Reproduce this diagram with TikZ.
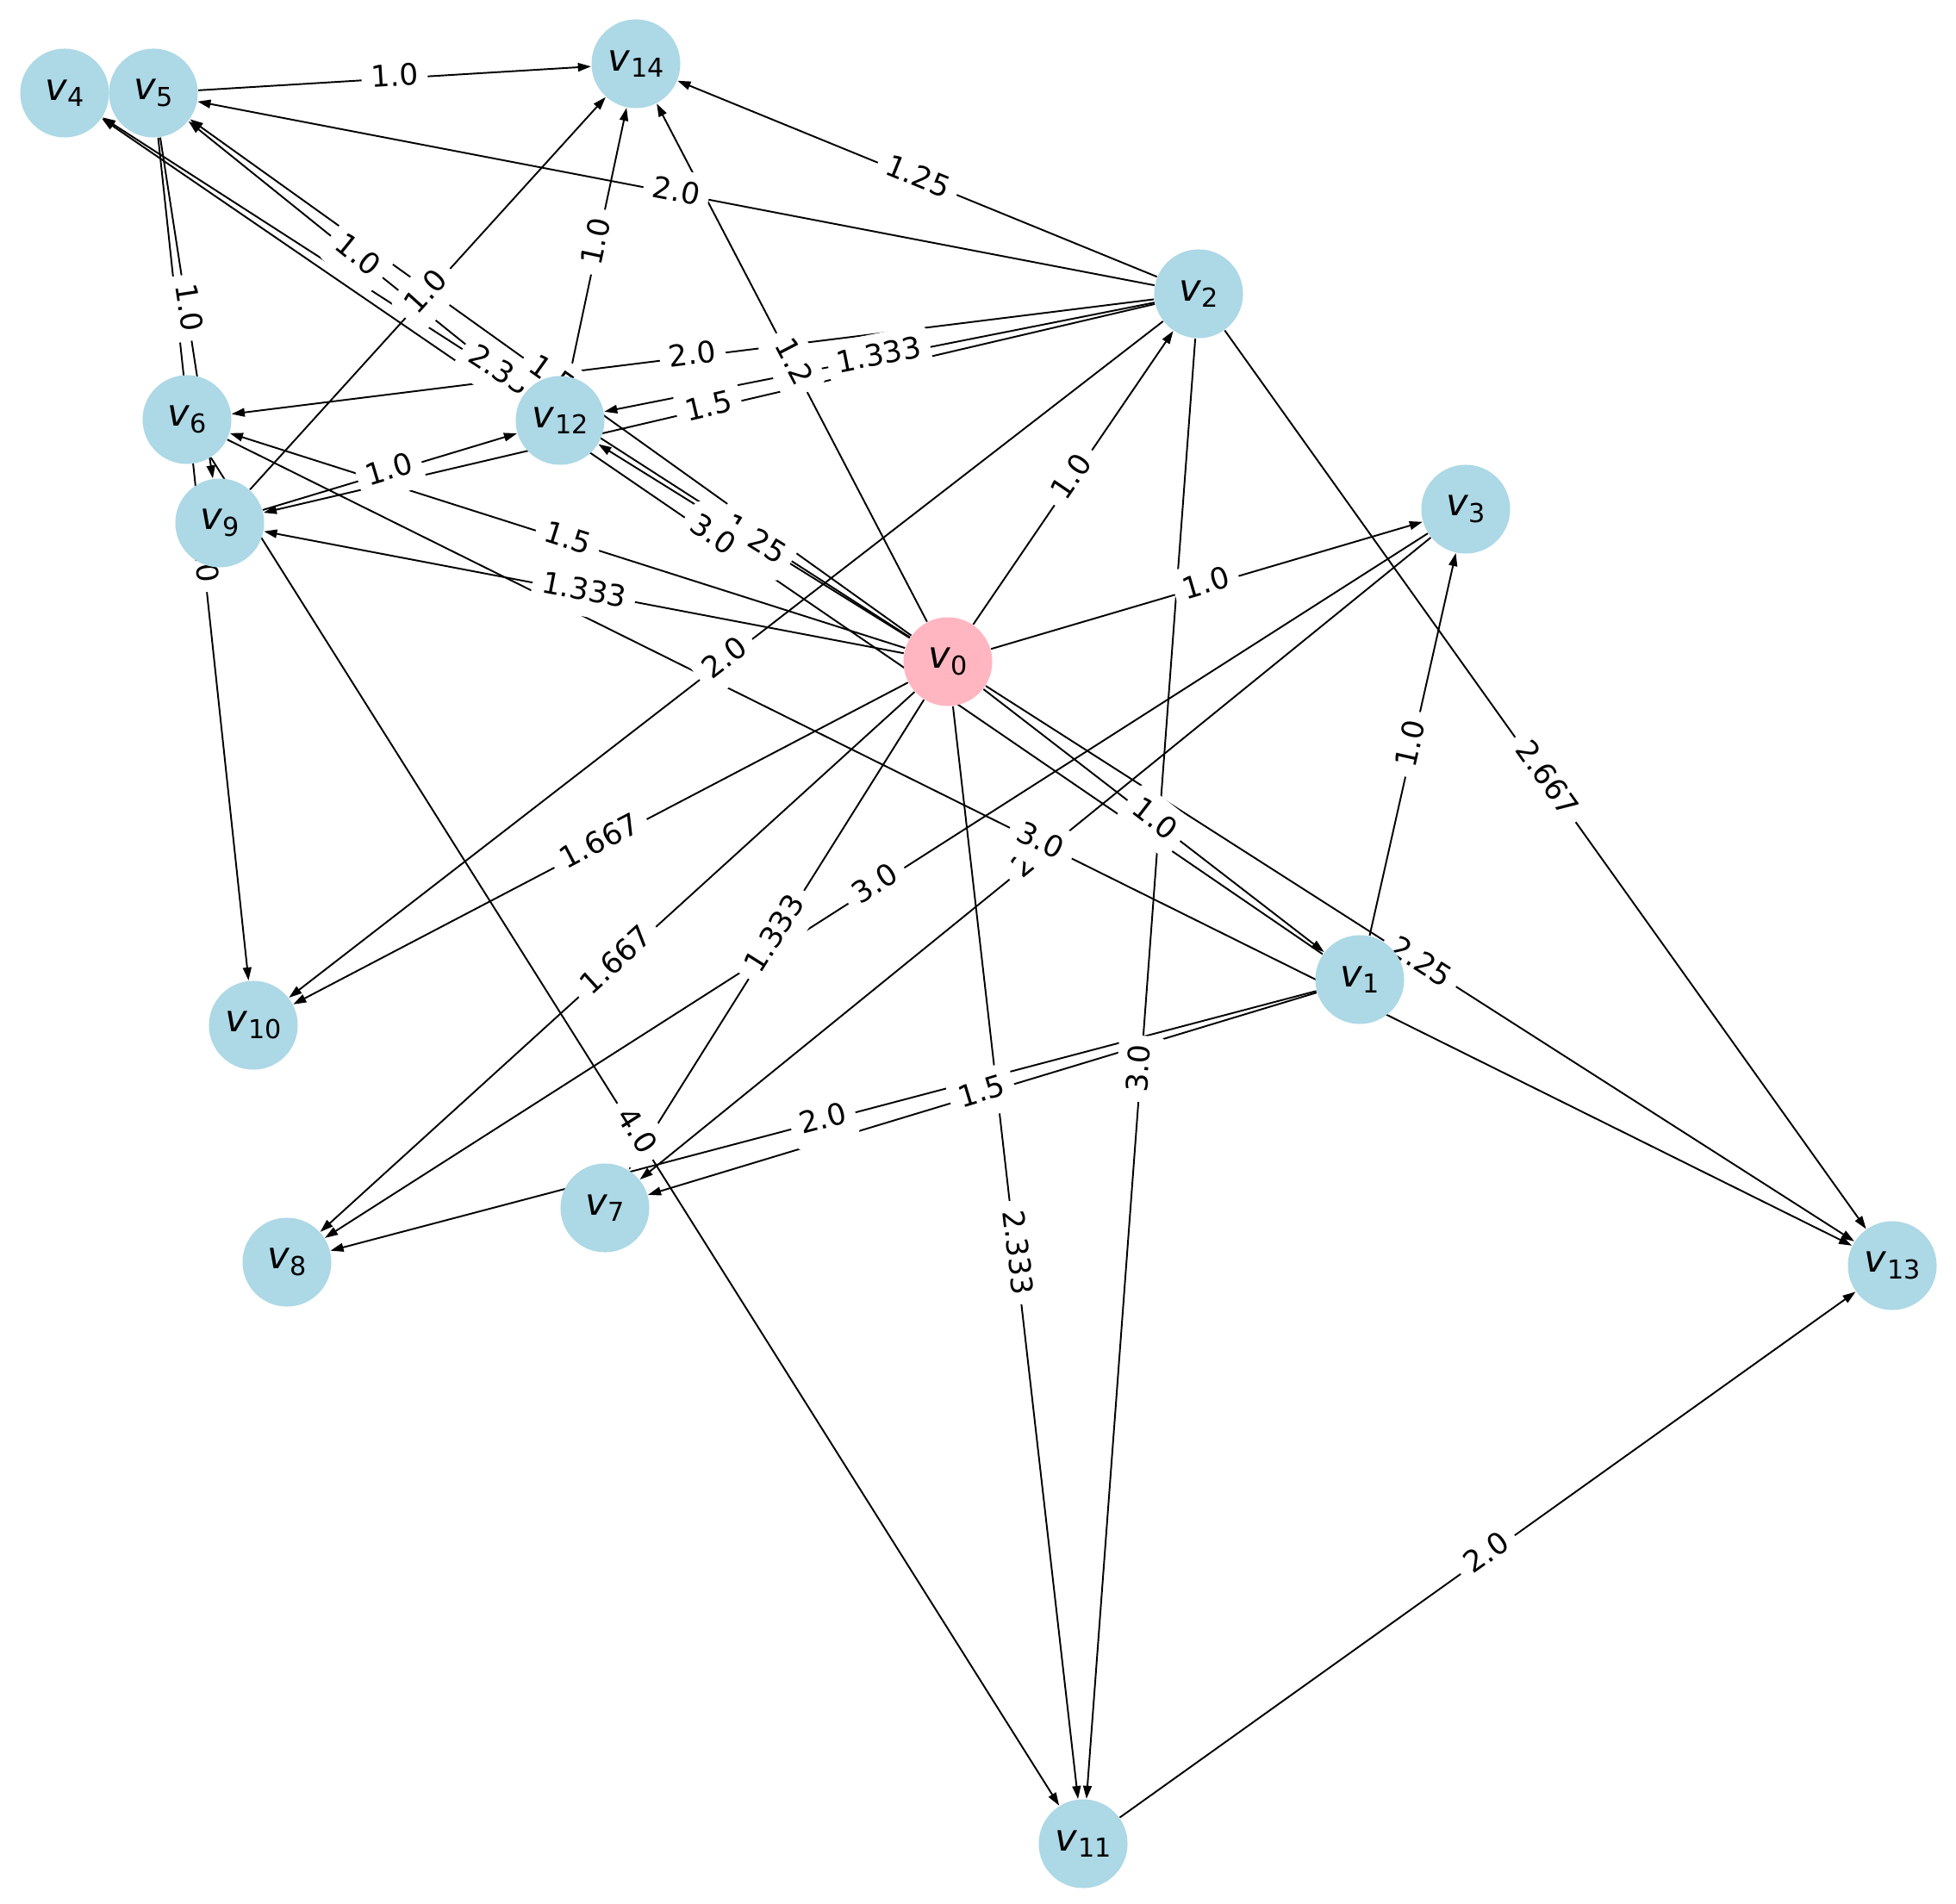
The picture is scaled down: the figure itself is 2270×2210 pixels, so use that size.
\documentclass[tikz,border=0pt]{standalone}
\usepackage{fontspec}
\setmainfont{DejaVu Sans}
\usetikzlibrary{arrows.meta}
\pgfdeclarelayer{edgelayer}
\pgfdeclarelayer{labellayer}
\pgfsetlayers{edgelayer,labellayer,main}
\definecolor{nodeblue}{HTML}{ADD8E6}
\definecolor{nodepink}{HTML}{FFB6C1}
\newcommand\vlab[1]{\textit{v}\kern0.01em\raisebox{-0.17em}{\fontsize{8.6}{8.6}\selectfont #1}}
\tikzset{
  vnode/.style={circle, fill=nodeblue, draw=none, minimum size=1.03cm, inner sep=0pt,
    font=\fontsize{12.3}{12.3}\selectfont},
  rootnode/.style={vnode, fill=nodepink},
  edgeline/.style={draw=black, line width=0.55pt, -{Triangle[length=4.3pt,width=2.8pt]}},
  elabel/.style={midway, sloped, fill=white, rounded corners=2.8pt, inner xsep=0.11cm,
    inner ysep=0.1cm, text height=0.76em, text depth=0.24em,
    font=\fontsize{9.8}{9.8}\selectfont}
}
\begin{document}
\begin{tikzpicture}[x=0.01cm, y=-0.01cm]
\begin{pgfonlayer}{edgelayer}
\fill[white] (0,0) rectangle (2270,2210);
\end{pgfonlayer}
\path[use as bounding box] (0,0) rectangle (2270,2210);
% nodes
\node[rootnode] (v0)  at (1100,768)  {\vlab{0}};
\node[vnode]    (v1)  at (1578,1137) {\vlab{1}};
\node[vnode]    (v2)  at (1391,341)  {\vlab{2}};
\node[vnode]    (v3)  at (1701,591)  {\vlab{3}};
\node[vnode]    (v4)  at (75,108)    {\vlab{4}};
\node[vnode]    (v5)  at (178,108)   {\vlab{5}};
\node[vnode]    (v6)  at (217,487)   {\vlab{6}};
\node[vnode]    (v7)  at (702,1402)  {\vlab{7}};
\node[vnode]    (v8)  at (333,1465)  {\vlab{8}};
\node[vnode]    (v9)  at (255,607)   {\vlab{9}};
\node[vnode]    (v10) at (294,1190)  {\vlab{10}};
\node[vnode]    (v11) at (1257,2140) {\vlab{11}};
\node[vnode]    (v12) at (650,488)   {\vlab{12}};
\node[vnode]    (v13) at (2196,1469) {\vlab{13}};
\node[vnode]    (v14) at (738,74)    {\vlab{14}};
% edges with weights
\foreach \a/\b/\w in {
  v0/v1/1.0, v0/v2/1.0, v0/v3/1.0, v0/v4/2.333, v0/v5/1.5, v0/v6/1.5,
  v0/v7/1.333, v0/v8/1.667, v0/v9/1.333, v0/v10/1.667, v0/v11/2.333,
  v0/v12/1.25, v0/v13/2.25, v0/v14/1.2,
  v1/v3/1.0, v1/v4/3.0, v1/v7/1.5, v1/v8/2.0,
  v2/v5/2.0, v2/v6/2.0, v2/v9/1.5, v2/v10/2.0, v2/v11/3.0, v2/v12/1.333,
  v2/v13/2.667, v2/v14/1.25,
  v3/v7/2.0, v3/v8/3.0,
  v5/v9/1.0, v5/v10/1.0, v5/v14/1.0,
  v6/v11/4.0, v6/v13/3.0,
  v9/v12/1.0, v9/v14/1.0,
  v11/v13/2.0,
  v12/v5/1.0, v12/v14/1.0}
{
  \begin{pgfonlayer}{edgelayer}
    \draw[edgeline] (\a) -- (\b);
  \end{pgfonlayer}
  \begin{pgfonlayer}{labellayer}
    \path (\a) -- (\b) node[elabel] {\w};
  \end{pgfonlayer}
}
\end{tikzpicture}
\end{document}
